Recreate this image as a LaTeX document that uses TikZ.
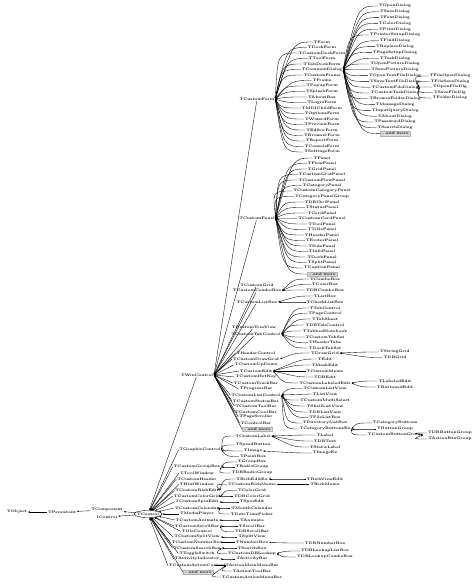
\documentclass[tikz,border=0pt]{standalone}
\usepackage{fontspec}
\usetikzlibrary{arrows.meta,shapes.geometric}

\begin{document}
\begin{tikzpicture}[x=1pt,y=-1pt,
  cls/.style={inner sep=0.8pt,font=\fontsize{3.6}{4}\selectfont\bfseries},
  more/.style={cls,fill=black!15,draw=black!30,line width=0.2pt,minimum width=30pt},
  focus/.style={cls,ellipse,draw,line width=0.4pt,inner xsep=-1pt,inner ysep=1.2pt},
  arr/.style={-{Stealth[length=2.2pt,width=1.6pt]},line width=0.35pt}
]
\useasboundingbox (0,0) rectangle (474,584);

% ancestors
\node[cls] (tobject) at (17,512) {TObject};
\node[cls] (tpersistent) at (62,512) {TPersistent};
\node[cls] (tcomponent) at (107,510) {TComponent};
\node[cls] (icontrol) at (107,517) {IControl};
\node[focus] (tcontrol) at (148,514) {TControl};
\draw[arr] (tpersistent) -- (tobject);
\draw[arr] (tcomponent) -- (tpersistent);
\draw[arr] (tcontrol) -- (tcomponent);
\draw[arr] (tcontrol) -- (icontrol);

% direct descendants
\node[cls] (twincontrol) at (197,375) {TWinControl};
\node[cls] (tgraphiccontrol) at (200,450) {TGraphicControl};
\draw[arr] (twincontrol) -- (tcontrol);
\draw[arr] (tgraphiccontrol.west) -- (tcontrol);
\foreach \n/\y [count=\i] in {TCustomGroupBox/467,TToolWindow/473,TCustomHeader/479,THintWindow/484.5,TCustomRichEdit/490.5,TCustomColorGrid/496,TCustomSpinEdit/502,TCustomCalendar/508,TMediaPlayer/514,TCustomAnimate/520,TCustomScrollBar/526,TOleControl/531.5,TCustomSplitView/537,TCustomNumberBox/542.5,TCustomSearchBox/548,TToggleSwitch/553.5,TActivityIndicator/559,TCustomActionControl/565.5}{
  \node[cls] (r\i) at (197,\y) {\n};
  \draw[arr] (r\i.west) -- (tcontrol);
}
\node[more] (rmore) at (198,572) {...and more};
\draw[arr] (rmore.west) -- (tcontrol);

% second level
\node[cls] (tcustomform) at (257,99) {TCustomForm};
\node[cls] (tcustompanel) at (257,218) {TCustomPanel};
\node[cls] (tcustomgrid) at (257,285) {TCustomGrid};
\node[cls] (tcustomcombo) at (257,290.5) {TCustomComboBox};
\node[cls] (tcustomlistbox) at (257,302) {TCustomListBox};
\node[cls] (tcustomtree) at (254,327) {TCustomTreeView};
\node[cls] (tcustomtabs) at (256,334) {TCustomTabControl};
\foreach \k in {tcustomform,tcustompanel,tcustomgrid,tcustomcombo,tcustomlistbox,tcustomtree,tcustomtabs}
  \draw[arr] (\k) -- (twincontrol.east);
\foreach \n/\y [count=\i] in {THeaderControl/353,TCustomDrawGrid/359,TCustomUpDown/365,TCustomEdit/371,TCustomHotKey/377,TCustomTrackBar/383,TProgressBar/389,TCustomListControl/395,TCustomStatusBar/401,TCustomToolBar/406,TCustomCoolBar/412,TPageScroller/417,TControlBar/423}{
  \node[cls] (c\i) at (256,\y) {\n};
  \draw[arr] (c\i.west) -- (twincontrol.east);
}
\node[more] (cmore) at (257,429) {...and more};
\draw[arr] (cmore.west) -- (twincontrol.east);

\foreach \n/\y [count=\i] in {TCustomLabel/436,TSpeedButton/445,TImage/451,TPaintBox/456.5}{
  \node[cls] (e\i) at (253,\y) {\n};
  \draw[arr] (e\i.west) .. controls +(-12,0) .. (tgraphiccontrol.east);
}
\foreach \n/\y/\p [count=\i] in {TGroupBox/462/r1,TRadioGroup/467/r1,TDBRadioGroup/473/r1,TRichEditEx/479/r5,TCustomRichMemo/484.5/r5,TColorGrid/490.5/r6,TDBColorGrid/496/r6,TSpinEdit/502/r7,TMonthCalendar/508/r8,TDateTimePicker/514/r8,TAnimate/520/r10,TScrollBar/526/r11,TDBScrollBar/531.5/r11,TSplitView/537/r13,TNumberBox/542.5/r14,TSearchBox/548/r15,TCustomDBLookup/553.5/r15,TActivityBar/559/r17,TActionMainMenuBar/565.5/r18,TActionToolBar/571/r18,TCustomActionMenuBar/577/r18}{
  \node[cls] (s\i) at (252,\y) {\n};
  \draw[arr] (s\i.west) .. controls +(-12,0) .. (\p.east);
}

% forms
\foreach \n [count=\i] in {TForm,TDockForm,TCustomDockForm,TToolForm,TTabDockForm,TCommonDialog,TCustomFrame,TFrame,TPopupForm,TSplashForm,TAboutBox,TLoginForm,TMDIChildForm,TOptionsForm,TWizardForm,TPreviewForm,TEditorForm,TBrowserForm,TReportForm,TConsoleForm,TSettingsForm}{
  \node[cls] (a\i) at (322,36.5+5.5*\i) {\n};
  \draw[arr] (a\i.west) .. controls +(-20,0) .. (tcustomform.east);
}
\foreach \n [count=\i] in {TOpenDialog,TSaveDialog,TFontDialog,TColorDialog,TPrintDialog,TPrinterSetupDialog,TFindDialog,TReplaceDialog,TPageSetupDialog,TTaskDialog,TOpenPictureDialog,TSavePictureDialog,TOpenTextFileDialog,TSaveTextFileDialog,TCustomFileDialog,TCustomTaskDialog,TBrowseFolderDialog,TMessageDialog,TInputQueryDialog,TAboutDialog,TPasswordDialog,TSearchDialog}{
  \node[cls] (p\i) at (395,0.2+5.8*\i) {\n};
  \draw[arr] (p\i.west) .. controls +(-20,0) .. (a6.east);
}
\node[more] (pmore) at (395,133.6) {...and more};
\draw[arr] (pmore.west) .. controls +(-20,0) .. (a6.east);
\foreach \n [count=\i] in {TFileOpenDialog,TFileSaveDialog,TOpenFileDlg,TSaveFileDlg,TFolderDialog}{
  \node[cls] (q\i) at (450,70.5+5.5*\i) {\n};
  \draw[arr] (q\i.west) .. controls +(-15,0) .. (p15.east);
}

% panels
\foreach \n [count=\i] in {TPanel,TFlowPanel,TGridPanel,TCustomGridPanel,TCustomFlowPanel,TCategoryPanel,TCustomCategoryPanel,TCategoryPanelGroup,TDBCtrlPanel,TStatusPanel,TCardPanel,TCustomCardPanel,TToolPanel,TTitlePanel,THeaderPanel,TFooterPanel,TSidePanel,TInfoPanel,TDockPanel,TSplitPanel,TCaptionPanel}{
  \node[cls] (b\i) at (322,152.5+5.5*\i) {\n};
  \draw[arr] (b\i.west) .. controls +(-20,0) .. (tcustompanel.east);
}
\node[more] (bmore) at (322,274) {...and more};
\draw[arr] (bmore.west) .. controls +(-20,0) .. (tcustompanel.east);

% third level and deeper
\foreach \n/\y/\p [count=\i] in {TComboBox/279/tcustomcombo,TColorBox/284.5/tcustomcombo,TDBComboBox/290/tcustomcombo,TListBox/296/tcustomlistbox,TCheckListBox/302/tcustomlistbox,TTabControl/308/tcustomtabs,TPageControl/313.5/tcustomtabs,TTabSheet/319/tcustomtabs,TDBTabControl/325/tcustomtabs,TTabbedNotebook/331/tcustomtabs,TCustomTabSet/337/tcustomtabs,THeaderTabs/342.5/tcustomtabs,TDockTabSet/348/tcustomtabs,TDrawGrid/353/c2,TEdit/359/c4,TMaskEdit/365/c4,TCustomMemo/371/c4,TDBEdit/377/c4,TCustomLabeledEdit/383/c4,TCustomListView/388.5/c8,TListView/394/c8,TCustomMultiSelect/400/c8,TShellListView/406/c8,TDBListView/412/c8,TFileListBox/417.5/c8,TDirectoryListBox/423/c8,TCategoryButtonsEx/429/c8,TLabel/435/e1,TDBText/441/e1,TStaticLabel/447/e1,TImageEx/453/e3,TRichViewEdit/479/s4,TRichMemo/484.5/s5,TDBNumberBox/543/s15,TDBLookupListBox/551/s17,TDBLookupComboBox/557/s17}{
  \node[cls] (u\i) at (325,\y) {\n};
  \draw[arr] (u\i.west) .. controls +(-15,0) .. (\p.east);
}
\foreach \n/\y/\p [count=\i] in {TStringGrid/352/u14,TDBGrid/357.5/u14,TLabeledEdit/381/u19,TButtonedEdit/387/u19,TCategoryButtons/423/u27,TButtonGroup/429/u27,TCustomButtonGroup/435/u27}{
  \node[cls] (v\i) at (395,\y) {\n};
  \draw[arr] (v\i.west) .. controls +(-15,0) .. (\p.east);
}
\foreach \n/\y [count=\i] in {TDBButtonGroup/433,TActionBtnGroup/439}{
  \node[cls] (w\i) at (450,\y) {\n};
  \draw[arr] (w\i.west) .. controls +(-15,0) .. (v7.east);
}
\end{tikzpicture}
\end{document}
